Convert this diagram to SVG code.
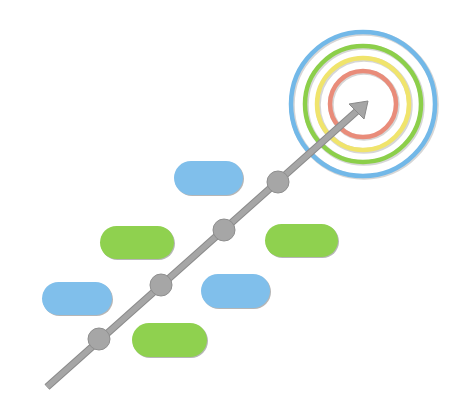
<svg xmlns="http://www.w3.org/2000/svg" width="474" height="413" viewBox="0 0 474 413">
<defs>
<style>
.pill-b{fill:#80bfeb}
.pill-g{fill:#8fd14f}
.sh{fill:#6e6e6e;opacity:0.5}
.ring{fill:none;stroke-width:4.5}
.rsh{fill:none;stroke:#777;stroke-width:5.5;opacity:0.3}
.node{fill:#a6a6a6;stroke:#8e8e8e;stroke-width:1}
</style>
</defs>
<rect width="474" height="413" fill="#ffffff"/>
<g id="target">
<circle class="rsh" cx="364" cy="105" r="72"/>
<circle class="ring" cx="363" cy="104" r="72" stroke="#72b8e8"/>
<circle class="rsh" cx="364" cy="105" r="58"/>
<circle class="ring" cx="363" cy="104" r="58" stroke="#8ccf4a"/>
<circle class="rsh" cx="364" cy="105" r="46"/>
<circle class="ring" cx="363" cy="104" r="46" stroke="#f0e46c"/>
<circle class="rsh" cx="364" cy="105" r="33"/>
<circle class="ring" cx="363" cy="104" r="33" stroke="#e98c7a"/>
</g>
<g id="pill1"><rect class="sh" x="175" y="162" width="69" height="34" rx="17"/><rect class="pill-b" x="174" y="161" width="69" height="34" rx="17"/></g>
<g id="pill2"><rect class="sh" x="101" y="227" width="74" height="33" rx="16.5"/><rect class="pill-g" x="100" y="226" width="74" height="33" rx="16.5"/></g>
<g id="pill3"><rect class="sh" x="266" y="225" width="73" height="33" rx="16.5"/><rect class="pill-g" x="265" y="224" width="73" height="33" rx="16.5"/></g>
<g id="pill4"><rect class="sh" x="43" y="283" width="70" height="33" rx="16.5"/><rect class="pill-b" x="42" y="282" width="70" height="33" rx="16.5"/></g>
<g id="pill5"><rect class="sh" x="202" y="275" width="69" height="34" rx="17"/><rect class="pill-b" x="201" y="274" width="69" height="34" rx="17"/></g>
<g id="pill6"><rect class="sh" x="133" y="324" width="75" height="34" rx="17"/><rect class="pill-g" x="132" y="323" width="75" height="34" rx="17"/></g>
<g id="connectors">
<line x1="47" y1="387" x2="357" y2="111" stroke="#8a8a8a" stroke-width="7.5"/>
<line x1="47" y1="387" x2="357" y2="111" stroke="#a6a6a6" stroke-width="5.5"/>
<polygon points="368,101 349,104 364,119" fill="#a6a6a6" stroke="#8a8a8a" stroke-width="1"/>
</g>
<g id="node1"><circle class="node" cx="99" cy="339" r="11"/></g>
<g id="node2"><circle class="node" cx="161" cy="285" r="11"/></g>
<g id="node3"><circle class="node" cx="224" cy="230" r="11"/></g>
<g id="node4"><circle class="node" cx="278" cy="182" r="11"/></g>
</svg>
